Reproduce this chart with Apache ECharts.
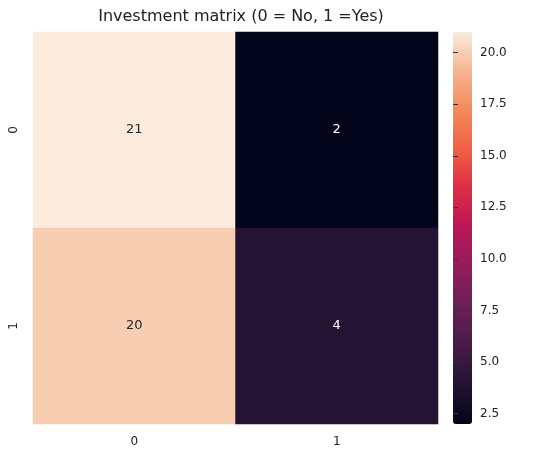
<!DOCTYPE html>
<html>
<head>
<meta charset="utf-8">
<script src="https://cdn.jsdelivr.net/npm/echarts@6/dist/echarts.min.js"></script>
<style>html,body{margin:0;background:#fff}#main{width:550px;height:456px}</style>
</head>
<body>
<div id="main"></div>
<script>
var xCats = ['0', '1'];
var yCats = ['0', '1'];
var cells = [[0, 0, 21], [1, 0, 2], [0, 1, 20], [1, 1, 4]];
var barTicks = [2.5, 5, 7.5, 10, 12.5, 15, 17.5, 20];
var vMin = 2, vMax = 21;

// rocket colormap
var rocket = ['#03051a', '#221331', '#451c47', '#6a1f56', '#921c5b', '#b91657',
  '#dd2c45', '#f06043', '#f4895c', '#f6b48e', '#faebdd'];

var font = 'DejaVu Sans';
var chart = echarts.init(document.getElementById('main'));
var option = {
  animation: false,
  textStyle: { fontFamily: font },
  title: {
    text: 'Investment matrix (0 = No, 1 =Yes)',
    left: 236, top: 4, textAlign: 'center',
    textStyle: { fontFamily: font, fontSize: 16, fontWeight: 'normal', color: '#222' }
  },
  grid: [
    { left: 33, top: 32, width: 405, height: 392 },
    { left: 453, top: 32, width: 19, height: 392 }
  ],
  xAxis: [
    { type: 'category', data: xCats, gridIndex: 0,
      axisLine: { show: false }, axisTick: { length: 5, lineStyle: { color: '#333' } },
      axisLabel: { color: '#222', fontSize: 12, margin: 12 } },
    { type: 'value', gridIndex: 1, show: false, min: 0, max: 1 }
  ],
  yAxis: [
    { type: 'category', data: yCats, gridIndex: 0, inverse: true,
      axisLine: { show: false }, axisTick: { length: 5, lineStyle: { color: '#333' } },
      axisLabel: { color: '#222', fontSize: 12, rotate: 90, margin: 13 } },
    { type: 'value', gridIndex: 1, position: 'right', min: vMin, max: vMax,
      splitLine: { show: false }, axisLine: { show: false },
      axisTick: { show: true, length: 5, customValues: barTicks, lineStyle: { color: '#333' } },
      axisLabel: { color: '#222', fontSize: 12, margin: 8, customValues: barTicks,
        formatter: function (v) { return v.toFixed(1); } } }
  ],
  visualMap: {
    type: 'continuous', min: vMin, max: vMax, seriesIndex: 0,
    calculable: false, text: ['', ''], showLabel: false, padding: 0, itemGap: 0,
    left: 453, top: 32, itemWidth: 19, itemHeight: 392, z: 0,
    inRange: { color: rocket }
  },
  series: [{
    type: 'heatmap', xAxisIndex: 0, yAxisIndex: 0,
    data: cells.map(function (c) {
      return { value: c, label: { color: c[2] > 11 ? '#262626' : '#ffffff' } };
    }),
    label: { show: true, fontSize: 13, fontFamily: font,
      formatter: function (p) { return p.value[2]; } }
  }]
};
chart.setOption(option);
</script>
</body>
</html>
